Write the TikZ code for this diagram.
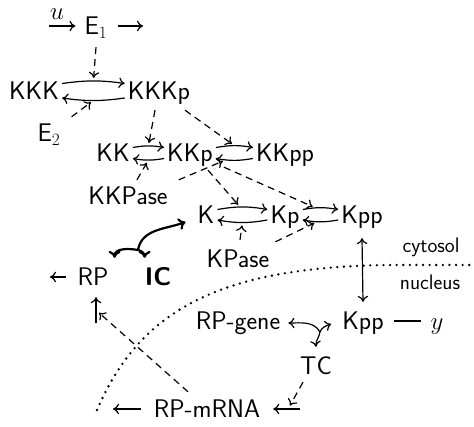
\documentclass[tikz,border=0pt]{standalone}
\usepackage{fontspec}
\usetikzlibrary{arrows.meta,calc}
\tikzset{
  lbl/.style={font=\sffamily\fontsize{25.5}{30}\selectfont, anchor=base, text height=18pt, text depth=0pt, inner xsep=3pt, inner ysep=2pt},
  sm/.style={font=\sffamily\fontsize{21}{25}\selectfont, anchor=base, inner sep=1pt},
  tipthin/.tip={Computer Modern Rightarrow[length=6pt,width=10.5pt]},
  tipthick/.tip={Computer Modern Rightarrow[length=7pt,width=12pt]},
  rxn/.style={-{tipthin}, line width=1.2pt},
  birxn/.style={{tipthin}-{tipthin}, line width=1.2pt},
  cat/.style={-{tipthin}, line width=1.2pt, dash pattern=on 7pt off 5pt, shorten >=3pt},
  thk/.style={-{tipthick}, line width=2.2pt},
  dotline/.style={line width=2.6pt, dash pattern=on 0pt off 6.6pt, line cap=round},
  plain/.style={line width=1.2pt}
}
\begin{document}
\begin{tikzpicture}[x=1pt,y=-1pt]
\useasboundingbox (0,0) rectangle (474,427);
% nodes
\node[lbl] (u) at (57,20) {$u$};
\node[lbl] (E1) at (96,35) {E$_1$};
\node[lbl] (KKK) at (34,100) {KKK};
\node[lbl] (KKKp) at (159,100) {KKKp};
\node[lbl] (E2) at (49,142) {E$_2$};
\node[lbl] (KK) at (113,162) {KK};
\node[lbl] (KKp) at (190,162) {KKp};
\node[lbl] (KKpp) at (285,162) {KKpp};
\node[lbl] (KKPase) at (128,205) {KKPase};
\node[lbl] (K) at (206,224) {K};
\node[lbl] (Kp) at (285,224) {Kp};
\node[lbl] (Kpp) at (362,224) {Kpp};
\node[lbl] (KPase) at (238,268) {KPase};
\node[lbl] (RP) at (93,286) {RP};
\node[lbl] (IC) at (158,286) {\bfseries IC};
\node[lbl] (RPgene) at (238,330) {RP-gene};
\node[lbl] (Kppn) at (363,330) {Kpp};
\node[lbl] (ynode) at (437,330) {$y$};
\node[lbl] (TC) at (316,375) {TC};
\node[lbl] (RPmRNA) at (207,418) {RP-mRNA};
\node[sm] (cyt) at (431,253) {cytosol};
\node[sm] (nuc) at (430,290) {nucleus};
% free ends
\coordinate (in0) at (49,26);
\coordinate (out0) at (143,26);
\coordinate (jIC) at (138,250);
\coordinate (jTC) at (320,332);
\coordinate (rpOut) at (50,277);
\coordinate (rpIn) at (96,323);
\coordinate (mIn) at (300,409);
\coordinate (mOut) at (113,409);
% input / output of E1
\draw[rxn] (in0) -- ([xshift=-6pt]E1.west);
\draw[rxn] ([xshift=7pt]E1.east) -- (out0);
% reversible reactions
\draw[rxn] ([yshift=7.5pt]KKK.east) to[bend left=8] coordinate[pos=.5] (f1) ([yshift=7.5pt]KKKp.west);
\draw[rxn] ([yshift=-7pt]KKKp.west) to[bend left=8] coordinate[pos=.5] (b1) ([yshift=-7pt]KKK.east);
\draw[rxn] ([yshift=5.5pt]KK.east) to[bend left=10] coordinate[pos=.5] (f2) ([yshift=5.5pt]KKp.west);
\draw[rxn] ([yshift=-5.5pt]KKp.west) to[bend left=10] coordinate[pos=.5] (b2) ([yshift=-5.5pt]KK.east);
\draw[rxn] ([yshift=5.5pt]KKp.east) to[bend left=10] coordinate[pos=.5] (f3) ([yshift=5.5pt]KKpp.west);
\draw[rxn] ([yshift=-5.5pt]KKpp.west) to[bend left=10] coordinate[pos=.75] (b3) ([yshift=-5.5pt]KKp.east);
\draw[rxn] ([yshift=5.5pt]K.east) to[bend left=10] coordinate[pos=.45] (f4) ([yshift=5.5pt]Kp.west);
\draw[rxn] ([yshift=-5pt]Kp.west) to[bend left=10] coordinate[pos=.5] (b4) ([yshift=-5pt]K.east);
\draw[rxn] ([yshift=5.5pt]Kp.east) to[bend left=10] coordinate[pos=.35] (f5) ([yshift=5.5pt]Kpp.west);
\draw[rxn] ([yshift=-5pt]Kpp.west) to[bend left=10] coordinate[pos=.6] (b5) ([yshift=-5pt]Kp.east);
% catalysis
\draw[cat] ([yshift=-10pt]E1.south) -- (f1);
\draw[cat] ([shift={(8pt,5pt)}]E2.north east) -- (b1);
\draw[cat] ([shift={(-4pt,-8pt)}]KKKp.south) -- (f2);
\draw[cat] ([shift={(26pt,-8pt)}]KKKp.south) -- (f3);
\draw[cat] ([shift={(9pt,5pt)}]KKPase.north) -- (b2);
\draw[cat] ([shift={(8pt,5pt)}]KKPase.north east) -- (b3);
\draw[cat] ([shift={(-8pt,-6pt)}]KKp.south east) -- (f4);
\draw[cat] ([shift={(8pt,-3pt)}]KKp.south east) -- (f5);
\draw[cat] ([shift={(2pt,8pt)}]KPase.north) -- (b4);
\draw[cat] ([shift={(3pt,6pt)}]KPase.north east) -- (b5);
% transport
\draw[birxn] ([yshift=-12pt]Kpp.south) -- ([yshift=8pt]Kppn.north);
% IC complex
\draw[thk] (jIC) to[out=80,in=200] ([shift={(-9pt,-7pt)}]K.west);
\draw[thk] (jIC) to[out=170,in=90] ([shift={(3pt,8pt)}]RP.north east);
\draw[thk] (jIC) to[out=-10,in=90] ([shift={(3pt,8pt)}]IC.north west);
% RP
\draw[rxn] ([xshift=-8pt]RP.west) -- (rpOut);
\draw[rxn] (rpIn) -- coordinate[pos=.5] (rpMid) ([shift={(3pt,-9pt)}]RP.south);
\draw[cat, shorten >=4pt] ([shift={(-19pt,6pt)}]RPmRNA.north) -- (rpMid);
% transcription complex
\draw[rxn] (jTC) to[out=120,in=0] ([shift={(5pt,-2pt)}]RPgene.east);
\draw[rxn] (jTC) to[out=70,in=200] ([shift={(-8pt,-3pt)}]Kppn.west);
\draw[rxn] (jTC) to[out=260,in=95] ([yshift=8pt]TC.north);
\draw[plain] ([xshift=7pt]Kppn.east) -- ([xshift=-6pt]ynode.west);
% mRNA
\draw[rxn] (mIn) -- coordinate[pos=.45] (tcT) ([xshift=10pt]RPmRNA.east);
\draw[rxn] ([xshift=-10pt]RPmRNA.west) -- (mOut);
\draw[cat, shorten >=4pt] ([shift={(-13pt,-5pt)}]TC.south) -- (tcT);
% nuclear membrane
\draw[dotline] (97,410) .. controls (140,310) and (220,265) .. (400,265) -- (474,265);
\end{tikzpicture}
\end{document}
